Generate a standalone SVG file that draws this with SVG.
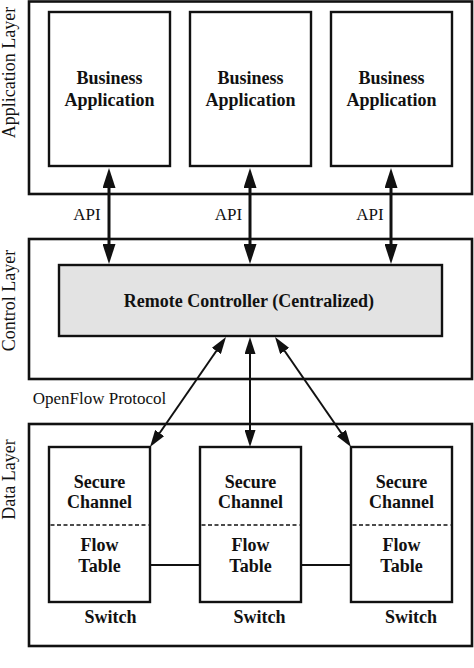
<svg xmlns="http://www.w3.org/2000/svg" width="474" height="668" viewBox="0 0 474 668">
<style>
.layer{fill:#fff;stroke:#111;stroke-width:2.6}
.box{fill:#fff;stroke:#111;stroke-width:2.4}
.ctrl{fill:#e3e3e3;stroke:#111;stroke-width:2.4}
.b{font-family:"Liberation Serif",serif;font-weight:bold;font-size:18px;fill:#111;text-anchor:middle}
.r{font-family:"Liberation Serif",serif;font-size:17px;fill:#111;text-anchor:middle}
.api{stroke:#111;stroke-width:3;fill:none;marker-start:url(#ha);marker-end:url(#ha)}
.of{stroke:#111;stroke-width:2;fill:none;marker-start:url(#hb);marker-end:url(#hb)}
.link{stroke:#111;stroke-width:2;fill:none}
.dash{stroke:#111;stroke-width:1.5;stroke-dasharray:4 2.5;fill:none}
</style>
<defs>
<marker id="ha" viewBox="0 0 20 13" refX="12" refY="6.5" markerWidth="20" markerHeight="13" markerUnits="userSpaceOnUse" orient="auto-start-reverse"><path d="M0,0 L20,6.5 L0,13 z" fill="#111"/></marker>
<marker id="hb" viewBox="0 0 17 11" refX="10" refY="5.5" markerWidth="17" markerHeight="11" markerUnits="userSpaceOnUse" orient="auto-start-reverse"><path d="M0,0 L17,5.5 L0,11 z" fill="#111"/></marker>
</defs>
<rect width="474" height="668" fill="#fff"/>
<g id="application-layer">
<rect class="layer" x="29" y="1.5" width="443" height="192.5"/>
<text class="r" font-size="18" transform="translate(15,72.5) rotate(-90)" style="font-size:18px">Application Layer</text>
</g>
<g id="control-layer">
<rect class="layer" x="29" y="239" width="443" height="140"/>
<text class="r" transform="translate(15,300.5) rotate(-90)" style="font-size:18px">Control Layer</text>
</g>
<g id="data-layer">
<rect class="layer" x="29" y="424" width="443" height="222"/>
<text class="r" transform="translate(15,479.5) rotate(-90)" style="font-size:18px">Data Layer</text>
</g>
<g id="app1"><rect class="box" x="49" y="12" width="121" height="154"/><text class="b" x="109.5" y="84">Business</text><text class="b" x="109.5" y="106">Application</text></g>
<g id="app2"><rect class="box" x="190" y="12" width="121" height="154"/><text class="b" x="250.5" y="84">Business</text><text class="b" x="250.5" y="106">Application</text></g>
<g id="app3"><rect class="box" x="331" y="12" width="121" height="154"/><text class="b" x="391.5" y="84">Business</text><text class="b" x="391.5" y="106">Application</text></g>
<g id="controller"><rect class="ctrl" x="59" y="265" width="383" height="71"/><text class="b" x="249" y="307">Remote Controller (Centralized)</text></g>
<g id="switch1"><rect class="box" x="49" y="447" width="101" height="155"/><line class="dash" x1="50.5" y1="525" x2="148.5" y2="525"/><text class="b" x="99.5" y="488">Secure</text><text class="b" x="99.5" y="508">Channel</text><text class="b" x="99.5" y="551">Flow</text><text class="b" x="99.5" y="571.5">Table</text><text class="b" x="110.5" y="622.5">Switch</text></g>
<g id="switch2"><rect class="box" x="200" y="447" width="101" height="155"/><line class="dash" x1="201.5" y1="525" x2="299.5" y2="525"/><text class="b" x="250.5" y="488">Secure</text><text class="b" x="250.5" y="508">Channel</text><text class="b" x="250.5" y="551">Flow</text><text class="b" x="250.5" y="571.5">Table</text><text class="b" x="259.5" y="622.5">Switch</text></g>
<g id="switch3"><rect class="box" x="351" y="447" width="101" height="155"/><line class="dash" x1="352.5" y1="525" x2="450.5" y2="525"/><text class="b" x="401.5" y="488">Secure</text><text class="b" x="401.5" y="508">Channel</text><text class="b" x="401.5" y="551">Flow</text><text class="b" x="401.5" y="571.5">Table</text><text class="b" x="411" y="622.5">Switch</text></g>
<g id="connectors">
<line class="api" x1="109" y1="176" x2="109" y2="256"/>
<line class="api" x1="250" y1="176" x2="250" y2="256"/>
<line class="api" x1="391" y1="176" x2="391" y2="256"/>
<text class="r" x="87" y="220">API</text>
<text class="r" x="228.5" y="220">API</text>
<text class="r" x="370" y="220">API</text>
<line class="of" x1="222.02" y1="342.76" x2="153.98" y2="441.24"/>
<line class="of" x1="250" y1="344" x2="250" y2="440"/>
<line class="of" x1="278.98" y1="342.76" x2="347.02" y2="441.24"/>
<text class="r" x="99.5" y="404">OpenFlow Protocol</text>
<line class="link" x1="150" y1="565" x2="200" y2="565"/>
<line class="link" x1="301" y1="565" x2="351" y2="565"/>
</g>
</svg>
